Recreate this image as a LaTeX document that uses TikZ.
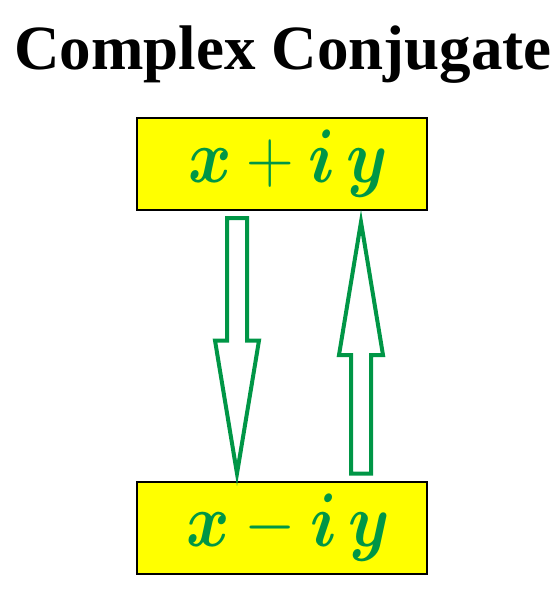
\RequirePackage{fix-cm}
\documentclass[tikz,border=0pt]{standalone}
\usepackage{fontspec}
\setmainfont{Liberation Serif}
\usepackage{bm}
\usetikzlibrary{calc}
\definecolor{boxyellow}{rgb}{1, 1, 0}
\definecolor{mathgreen}{RGB}{0, 150, 70}
% hollow arrow from #1 (tail) to #2 (tip)
\newcommand\hollowarrow[2]{%
	\coordinate (hb) at ($(#2)!133pt!(#1)$);
	\draw[arrowline] ($(#1)!10pt!90:(#2)$) -- ($(hb)!10pt!-90:(#1)$) -- ($(hb)!22pt!-90:(#1)$) -- (#2)
		-- ($(hb)!22pt!90:(#1)$) -- ($(hb)!10pt!90:(#1)$) -- ($(#1)!10pt!-90:(#2)$) -- cycle;}
\newcommand\mathlabel[1]{\raisebox{-4pt}{\hspace{12pt}\scalebox{1}[1.15]{$#1$}}}

\begin{document}
\begin{tikzpicture}[x=1pt, y=-1pt,
		mathbox/.style={draw=black, line width=2pt, fill=boxyellow, minimum width=290pt, minimum height=92pt, inner sep=0pt, font=\fontsize{66}{66}\selectfont, text=mathgreen},
		arrowline/.style={draw=mathgreen, line width=4pt, line join=miter}
	]
	\useasboundingbox (0,0) rectangle (554,598);
	\node[font=\fontsize{63}{63}\selectfont\bfseries, anchor=base] (title) at (283,69) {Complex Conjugate};
	\node[mathbox] (plus) at (282,164) {\mathlabel{\bm{x}+\bm{i}\,\bm{y}}};
	\node[mathbox] (minus) at (282,527.5) {\mathlabel{\bm{x}-\bm{i}\,\bm{y}}};
	\coordinate (downtail) at ($(plus.south)+(-45,7)$);
	\coordinate (downtip) at ($(minus.north)+(-45,-7)$);
	\coordinate (uptail) at ($(minus.north)+(79,-7)$);
	\coordinate (uptip) at ($(plus.south)+(79,11)$);
	\hollowarrow{downtail}{downtip}
	\hollowarrow{uptail}{uptip}
\end{tikzpicture}
\end{document}
